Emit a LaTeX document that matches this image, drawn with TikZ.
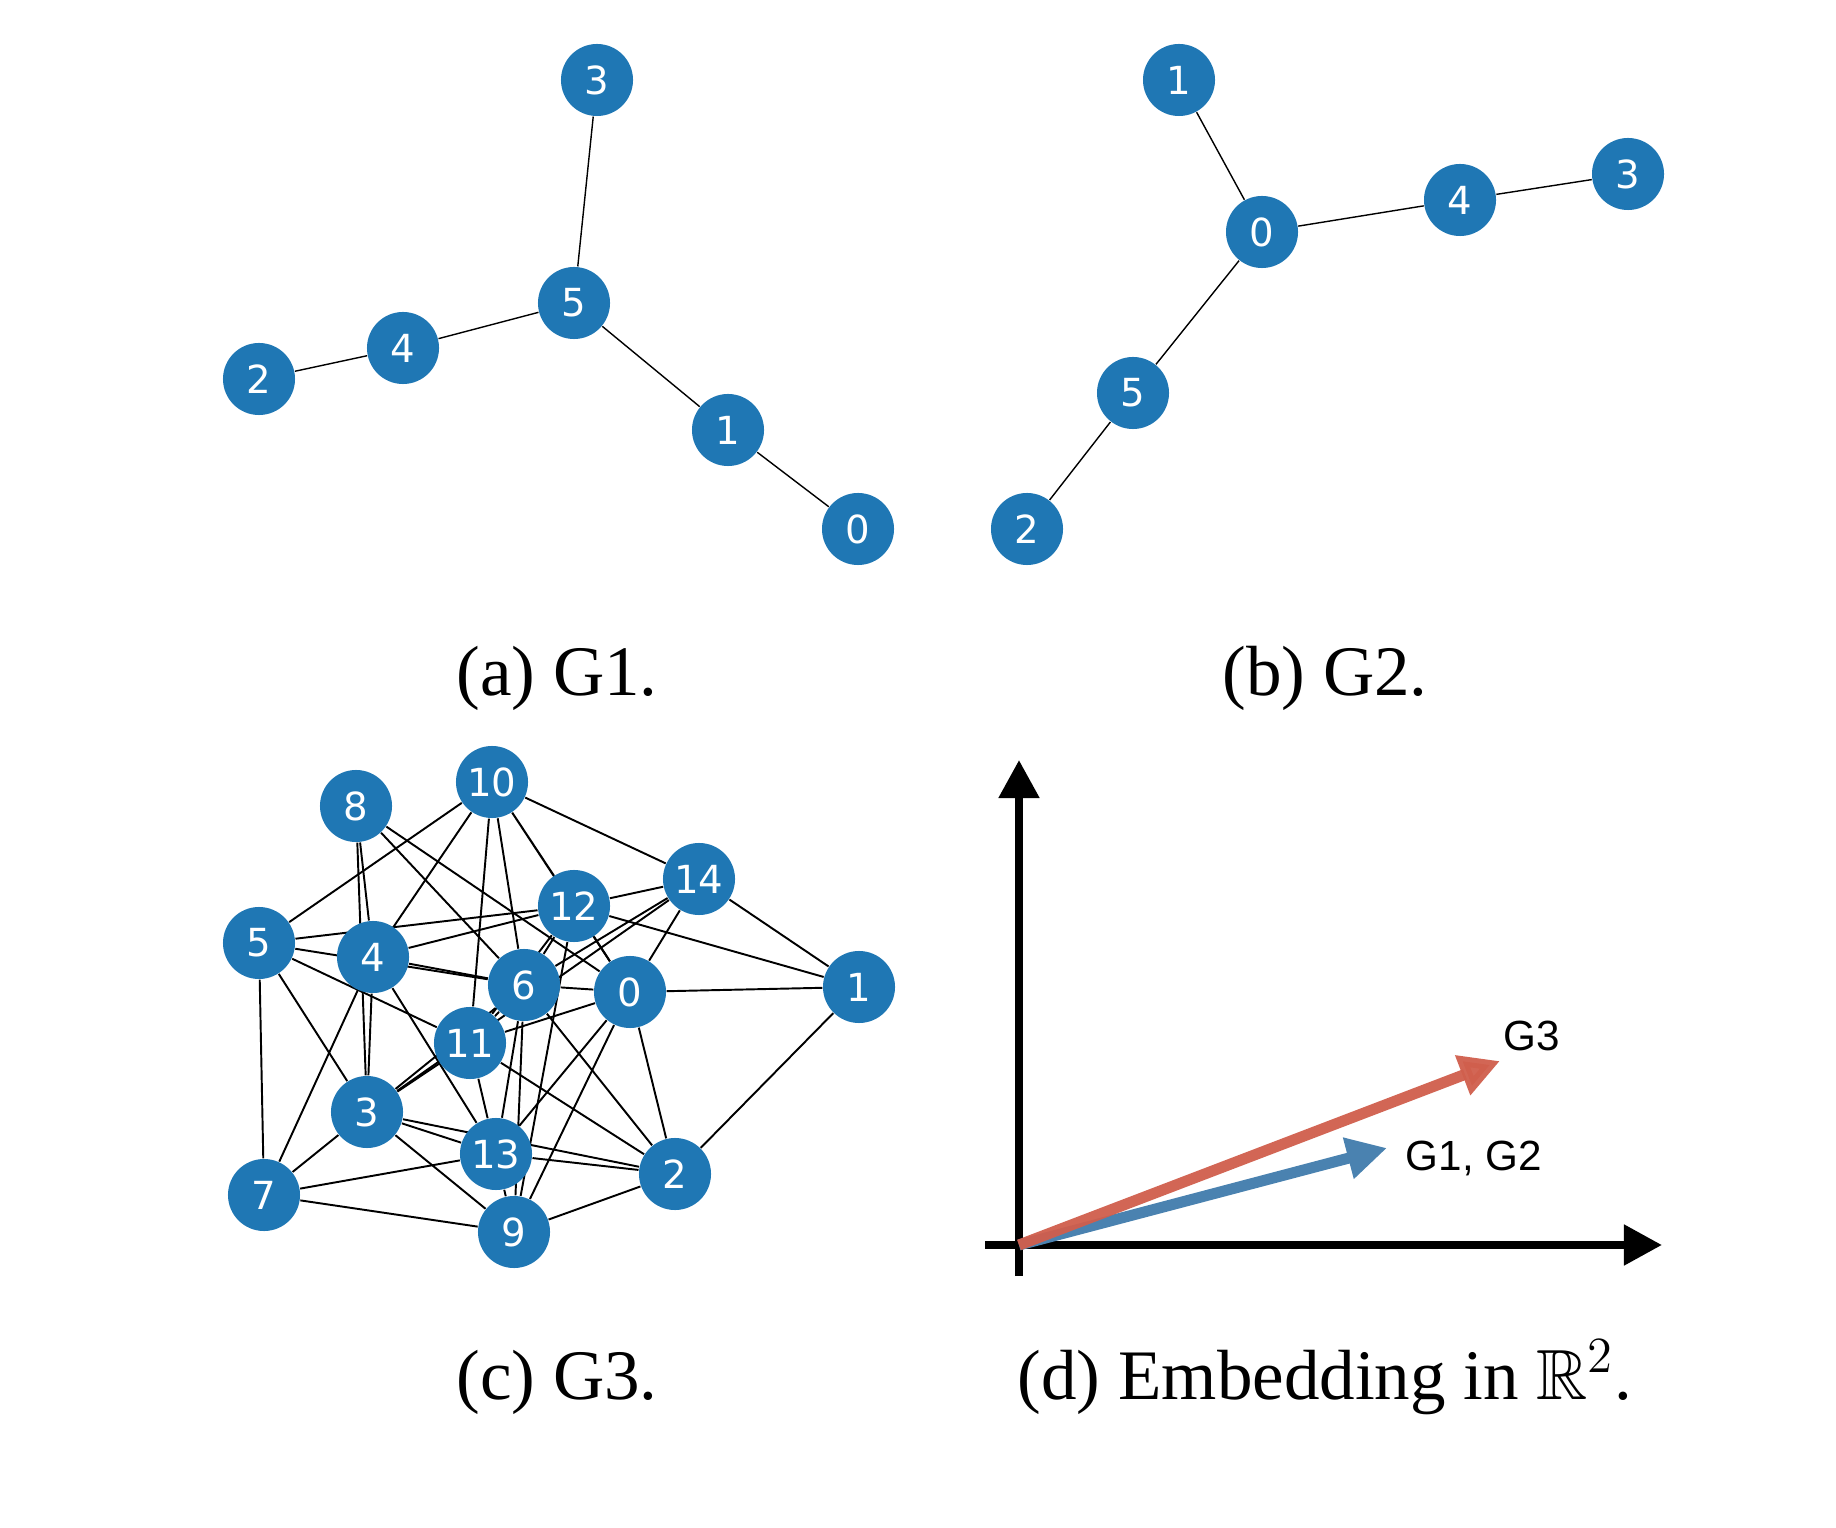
\documentclass[tikz,border=0pt]{standalone}
\usepackage{amssymb}
\usepackage{fontspec}
\setmainfont{Liberation Serif}
\newfontfamily\labelfont{DejaVu Sans}
\newfontfamily\axisfont{Liberation Sans}
\usetikzlibrary{arrows.meta}
\definecolor{nodeblue}{RGB}{31,119,180}
\definecolor{embred}{RGB}{208,94,76}
\definecolor{embblue}{RGB}{74,130,176}
\pgfdeclarelayer{background}
\pgfsetlayers{background,main}
\tikzset{
  gnode/.style={circle,fill=nodeblue,text=white,minimum size=0.72cm,inner sep=0pt,
    font=\labelfont\fontsize{11}{13}\selectfont},
  gedge/.style={line width=0.4pt,black},
  hedge/.style={line width=0.55pt,black},
  caption/.style={anchor=base,font=\fontsize{20.2}{24}\selectfont},
  axis/.style={line width=0.08cm,-{Triangle[length=0.38cm,width=0.39cm]}},
  embvec/.style={line width=0.11cm,-{Triangle[length=0.4cm,width=0.4cm]}},
  veclabel/.style={font=\axisfont\fontsize{12}{14}\selectfont}
}

\begin{document}
\begin{tikzpicture}[x=0.01cm,y=-0.01cm]
\useasboundingbox (0,0) rectangle (1836,1528);
% (a) G1
\node[gnode] (a3) at (597,80) {3};
\node[gnode] (a5) at (574,303) {5};
\node[gnode] (a4) at (403,348) {4};
\node[gnode] (a2) at (259,379) {2};
\node[gnode] (a1) at (728,430) {1};
\node[gnode] (a0) at (858,529) {0};
\node[caption] (capa) at (557,696) {(a) G1.};
% (b) G2
\node[gnode] (b1) at (1179,80) {1};
\node[gnode] (b0) at (1262,232) {0};
\node[gnode] (b4) at (1460,200) {4};
\node[gnode] (b3) at (1628,174) {3};
\node[gnode] (b5) at (1133,393) {5};
\node[gnode] (b2) at (1027,529) {2};
\node[caption] (capb) at (1325,696) {(b) G2.};
% (c) G3
\node[gnode] (c8) at (356,806) {8};
\node[gnode] (c10) at (492,782) {10};
\node[gnode] (c14) at (699,879) {14};
\node[gnode] (c12) at (574,906) {12};
\node[gnode] (c5) at (259,943) {5};
\node[gnode] (c4) at (373,957) {4};
\node[gnode] (c6) at (524,985) {6};
\node[gnode] (c0) at (630,992) {0};
\node[gnode] (c1) at (859,987) {1};
\node[gnode] (c11) at (470,1043) {11};
\node[gnode] (c3) at (367,1112) {3};
\node[gnode] (c13) at (496,1154) {13};
\node[gnode] (c2) at (675,1174) {2};
\node[gnode] (c7) at (264,1195) {7};
\node[gnode] (c9) at (514,1232) {9};
\node[caption] (capc) at (557,1399) {(c) G3.};
% (d) embedding
\coordinate (org) at (1019,1245);
\coordinate (ytop) at (1019,760);
\coordinate (ybot) at (1019,1276);
\coordinate (xleft) at (985,1245);
\coordinate (xright) at (1662,1245);
\coordinate (g12tip) at (1387,1148);
\coordinate (g3tip) at (1500,1061);
\node[veclabel] (g3lab) at (1532,1036) {G3};
\node[veclabel] (g12lab) at (1474,1158) {G1, G2};
\node[caption] (capd) at (1325,1399) {(d) Embedding in $\mathbb{R}^2$.};

\begin{pgfonlayer}{background}
\draw[gedge] (a3)--(a5) (a5)--(a4) (a4)--(a2) (a5)--(a1) (a1)--(a0);
\draw[gedge] (b1)--(b0) (b0)--(b4) (b4)--(b3) (b0)--(b5) (b5)--(b2);
\draw[hedge] (c10)--(c5) (c10)--(c4) (c10)--(c11) (c10)--(c6) (c10)--(c12) (c10)--(c14) (c10)--(c0);
\draw[hedge] (c8)--(c4) (c8)--(c3) (c8)--(c6) (c8)--(c0);
\draw[hedge] (c5)--(c12) (c5)--(c6) (c5)--(c11) (c5)--(c3) (c5)--(c7);
\draw[hedge] (c4)--(c12) (c4)--(c6) (c4)--(c3) (c4)--(c7) (c4)--(c13);
\draw[hedge] (c12)--(c14) (c12)--(c1) (c12)--(c0) (c12)--(c9) (c12)--(c6) (c12)--(c11);
\draw[hedge] (c14)--(c1) (c14)--(c0) (c14)--(c6) (c14)--(c3);
\draw[hedge] (c0)--(c1) (c0)--(c2) (c0)--(c9) (c0)--(c13) (c0)--(c6) (c0)--(c11);
\draw[hedge] (c1)--(c2) (c6)--(c2) (c6)--(c13) (c6)--(c9) (c6)--(c11) (c6)--(c3);
\draw[hedge] (c11)--(c2) (c11)--(c13) (c11)--(c3);
\draw[hedge] (c3)--(c13) (c3)--(c2) (c3)--(c9) (c3)--(c7);
\draw[hedge] (c13)--(c7) (c13)--(c2) (c13)--(c9) (c7)--(c9) (c9)--(c2);
\end{pgfonlayer}

\draw[axis] (ybot) -- (ytop);
\draw[axis] (xleft) -- (xright);
\draw[embvec,embblue] (org) -- (g12tip);
\draw[embvec,embred,opacity=0.95] (org) -- (g3tip);
\end{tikzpicture}
\end{document}
